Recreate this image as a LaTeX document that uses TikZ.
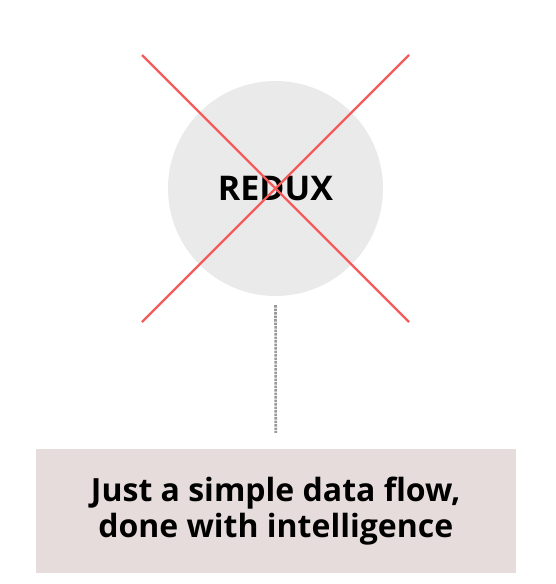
\documentclass[tikz,border=0pt]{standalone}
\usepackage{fontspec}
\setmainfont{Open Sans}
\usepackage{tikz}
\definecolor{bubblegray}{HTML}{EAEAEA}
\definecolor{crossred}{HTML}{F45B5B}
\definecolor{notepink}{HTML}{E7DCDC}
\definecolor{linkgray}{HTML}{999999}
\tikzset{
  storenode/.style={circle, fill=bubblegray, minimum size=215pt, inner sep=0pt,
    font=\fontsize{34}{40}\selectfont\bfseries},
  notebox/.style={rectangle, fill=notepink, minimum width=480pt, minimum height=124pt,
    align=center, font=\fontsize{32}{36}\selectfont\bfseries},
  crossline/.style={crossred, line width=2.2pt},
  linkline/.style={linkgray, line width=2.6pt, dash pattern=on 2.5pt off 1pt}
}

\begin{document}
\begin{tikzpicture}[x=1pt, y=-1pt]
\useasboundingbox (0,0) rectangle (556,584) ;
\coordinate (TL) at (142,55) ;
\coordinate (BR) at (409,322) ;
\coordinate (TR) at (409,55) ;
\coordinate (BL) at (142,322) ;
\node[storenode] (redux) at (275.5,188.5) {REDUX} ;
\node[notebox] (note) at (275.75,511) {Just a simple data flow,\\done with intelligence} ;
\draw[crossline] (TL) -- (BR) ;
\draw[crossline] (TR) -- (BL) ;
\draw[linkline, shorten <=9pt, shorten >=16pt] (redux.south) -- (note.north) ;
\end{tikzpicture}
\end{document}
